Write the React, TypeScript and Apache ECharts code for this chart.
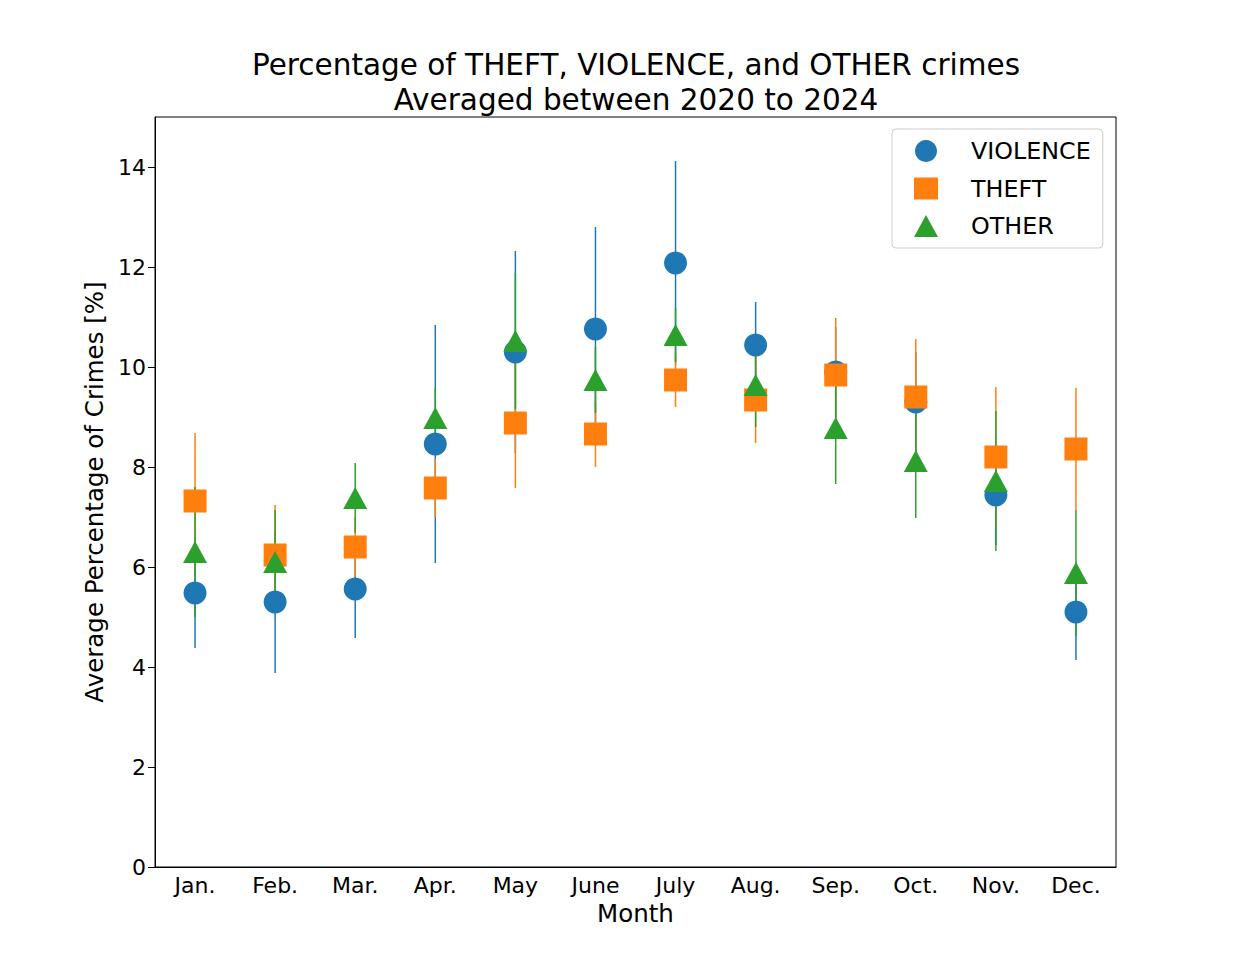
import { useEffect, useRef } from "react";
import * as echarts from "echarts";

const months = ["Jan.", "Feb.", "Mar.", "Apr.", "May", "June", "July", "Aug.", "Sep.", "Oct.", "Nov.", "Dec."];
const yTicks = [0, 2, 4, 6, 8, 10, 12, 14];

const violenceMean = [5.48, 5.3, 5.56, 8.46, 10.3, 10.76, 12.08, 10.44, 9.9, 9.3, 7.44, 5.1];
const violenceErr = [1.1, 1.42, 0.98, 2.38, 2.02, 2.04, 2.04, 0.86, 0.9, 1.0, 1.0, 0.96];

const theftMean = [7.32, 6.24, 6.4, 7.58, 8.88, 8.66, 9.74, 9.34, 9.84, 9.4, 8.2, 8.36];
const theftErr = [1.36, 1.0, 0.6, 0.58, 1.3, 0.66, 0.54, 0.86, 1.14, 1.16, 1.4, 1.22];

const otherMean = [6.3, 6.1, 7.38, 8.98, 10.52, 9.74, 10.64, 9.64, 8.78, 8.12, 7.72, 5.88];
const otherErr = [1.3, 1.04, 0.7, 0.6, 1.36, 0.66, 0.54, 0.84, 1.12, 1.14, 1.4, 1.26];

const FONT = "DejaVu Sans";

export default function App() {
  const ref = useRef<HTMLDivElement>(null);

  useEffect(() => {
    const chart = echarts.init(ref.current!, null, { renderer: "svg" });

    const errSeries = (name: string, mean: number[], err: number[], color: string) => ({
      type: "custom",
      name,
      z: 1,
      silent: true,
      data: mean.map((m, i) => [i, m - err[i], m + err[i]]),
      encode: { x: 0, y: [1, 2] },
      renderItem: (_params: any, api: any) => {
        const lo = api.coord([api.value(0), api.value(1)]);
        const hi = api.coord([api.value(0), api.value(2)]);
        return {
          type: "line",
          shape: { x1: lo[0], y1: lo[1], x2: hi[0], y2: hi[1] },
          style: { stroke: color, lineWidth: 1.5 },
        };
      },
    });

    const markerSeries = (name: string, mean: number[], color: string, symbol: string, size: any) => ({
      type: "scatter",
      name,
      z: 2,
      symbol,
      symbolSize: size,
      itemStyle: { color, opacity: 1 },
      data: mean.map((m, i) => [i, m]),
    });

    const C1 = "#1f77b4";
    const C2 = "#ff7f0e";
    const C3 = "#2ca02c";

    chart.setOption({
      animation: false,
      textStyle: { fontFamily: FONT },
      grid: {
        left: 147,
        top: 109,
        width: 961,
        height: 750,
        show: true,
        borderColor: "#000",
        borderWidth: 1,
        backgroundColor: "transparent",
      },
      graphic: [
        {
          type: "text",
          x: 628,
          y: 57,
          style: {
            text: "Percentage of THEFT, VIOLENCE, and OTHER crimes",
            fontSize: 29.5,
            fontFamily: FONT,
            fill: "#000",
            textAlign: "center",
            textVerticalAlign: "middle",
          },
        },
        {
          type: "text",
          x: 628,
          y: 92,
          style: {
            text: "Averaged between 2020 to 2024",
            fontSize: 29.5,
            fontFamily: FONT,
            fill: "#000",
            textAlign: "center",
            textVerticalAlign: "middle",
          },
        },
      ],
      legend: {
        left: 884,
        top: 121,
        orient: "vertical",
        data: [
          { name: "VIOLENCE", icon: "circle" },
          { name: "THEFT", icon: "rect" },
          { name: "OTHER", icon: "triangle" },
        ],
        itemWidth: 24,
        itemHeight: 22,
        itemGap: 13.5,
        padding: [10, 12, 10, 22],
        backgroundColor: "#fff",
        borderColor: "#cccccc",
        borderWidth: 1,
        borderRadius: 4,
        textStyle: { fontSize: 23.8, fontFamily: FONT, color: "#000", padding: [0, 0, 0, 28] },
        selectedMode: false,
      },
      xAxis: {
        type: "category",
        data: months,
        boundaryGap: true,
        name: "Month",
        nameLocation: "middle",
        nameGap: 32,
        nameTextStyle: { fontSize: 24.5, fontFamily: FONT, color: "#000" },
        axisLine: { lineStyle: { color: "#000", width: 1 } },
        axisTick: { alignWithLabel: true, length: 7, lineStyle: { color: "#000" } },
        axisLabel: { fontSize: 22, fontFamily: FONT, color: "#000", margin: 7, interval: 0 },
        splitLine: { show: false },
      },
      yAxis: {
        type: "value",
        min: 0,
        max: 15,
        interval: 2,
        name: "Average Percentage of Crimes [%]",
        nameLocation: "middle",
        nameRotate: 90,
        nameGap: 45,
        nameTextStyle: { fontSize: 24.5, fontFamily: FONT, color: "#000" },
        axisLine: { show: true, lineStyle: { color: "#000", width: 1 } },
        axisTick: { show: true, length: 7, lineStyle: { color: "#000" }, customValues: yTicks },
        axisLabel: { fontSize: 22, fontFamily: FONT, color: "#000", margin: 9, customValues: yTicks },
        splitLine: { show: false },
      },
      series: [
        errSeries("VIOLENCE_err", violenceMean, violenceErr, C1),
        errSeries("THEFT_err", theftMean, theftErr, C2),
        errSeries("OTHER_err", otherMean, otherErr, C3),
        markerSeries("VIOLENCE", violenceMean, C1, "circle", 23),
        markerSeries("THEFT", theftMean, C2, "rect", 23),
        markerSeries("OTHER", otherMean, C3, "triangle", [24, 22]),
      ],
    });

    return () => chart.dispose();
  }, []);

  return <div ref={ref} style={{ width: 1224, height: 958 }} />;
}
